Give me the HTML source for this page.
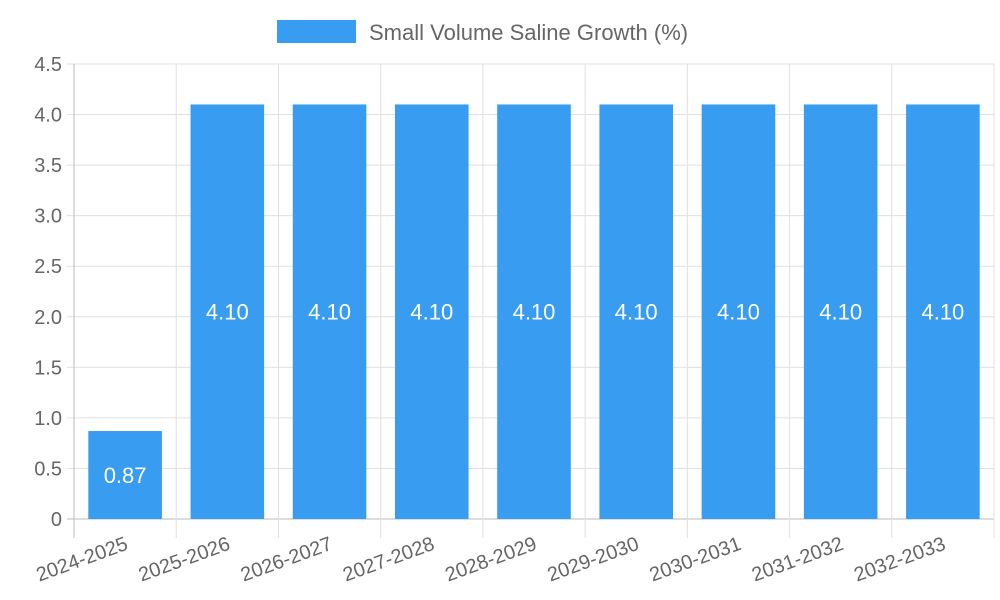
<!DOCTYPE html>
<html><head><meta charset="utf-8"><style>
html,body{margin:0;padding:0;background:#fff;}
svg{display:block;font-family:"Liberation Sans",Arial,sans-serif;}
</style></head><body>
<svg id="chart" width="1000" height="600" viewBox="0 0 1000 600">
<g id="grid"></g>
<g id="bars"></g>
<g id="axes"></g>
<g>
<rect x="277" y="20" width="79" height="23" fill="#389cf0"/>
<text x="369" y="40" font-size="22" fill="#666">Small Volume Saline Growth (%)</text>
</g>
</svg>
<script>
const categories=["2024-2025","2025-2026","2026-2027","2027-2028","2028-2029","2029-2030","2030-2031","2031-2032","2032-2033"];
const values=[0.87,4.10,4.10,4.10,4.10,4.10,4.10,4.10,4.10];
const yTicks=[0,0.5,1.0,1.5,2.0,2.5,3.0,3.5,4.0,4.5];
const yTickLabels=["0","0.5","1.0","1.5","2.0","2.5","3.0","3.5","4.0","4.5"];
const NS="http://www.w3.org/2000/svg";
const X0=74,X1=994,Y0=519,Y1=64,YMAX=4.5;
const bw=(X1-X0)/categories.length;
const y=v=>Y0-(v/YMAX)*(Y0-Y1);
const xc=i=>X0+bw*(i+0.5);
function mk(tag,attrs,parent){const e=document.createElementNS(NS,tag);for(const k in attrs)e.setAttribute(k,attrs[k]);parent.appendChild(e);return e;}
const grid=document.getElementById('grid'),bars=document.getElementById('bars'),axes=document.getElementById('axes');
yTicks.forEach((t,i)=>{
  const l=mk('line',{x1:X0-7,x2:X1,y1:y(t),y2:y(t),stroke:i===0?'#bbb':'#e0e0e0','stroke-width':1},grid);
  
  
  const tx=mk('text',{x:X0-12,y:y(t)+7,'text-anchor':'end','font-size':20,fill:'#666'},axes);
  tx.textContent=yTickLabels[i];
  
  
});
for(let i=0;i<=categories.length;i++){
  const x=X0+bw*i;
  const l=mk('line',{x1:x,x2:x,y1:Y1,y2:Y0+19,stroke:i===0?'#bbb':'#e0e0e0','stroke-width':1},grid);
  
  
}
categories.forEach((c,i)=>{
  const w=bw*0.72;
  const r=mk('rect',{x:xc(i)-w/2,y:y(values[i]),width:w,height:Y0-y(values[i]),fill:'#389cf0'},bars);
  
  
  const vt=mk('text',{x:xc(i),y:(y(values[i])+Y0)/2+8,'text-anchor':'middle','font-size':22,fill:'#fff'},bars);
  vt.textContent=values[i].toFixed(2);
  
  
  const lt=mk('text',{x:xc(i)+4,y:Y0+30,'text-anchor':'end','font-size':20,fill:'#666',transform:`rotate(-20 ${xc(i)+4} ${Y0+30})`},axes);
  lt.textContent=c;
  
  
});
</script>
</body></html>
